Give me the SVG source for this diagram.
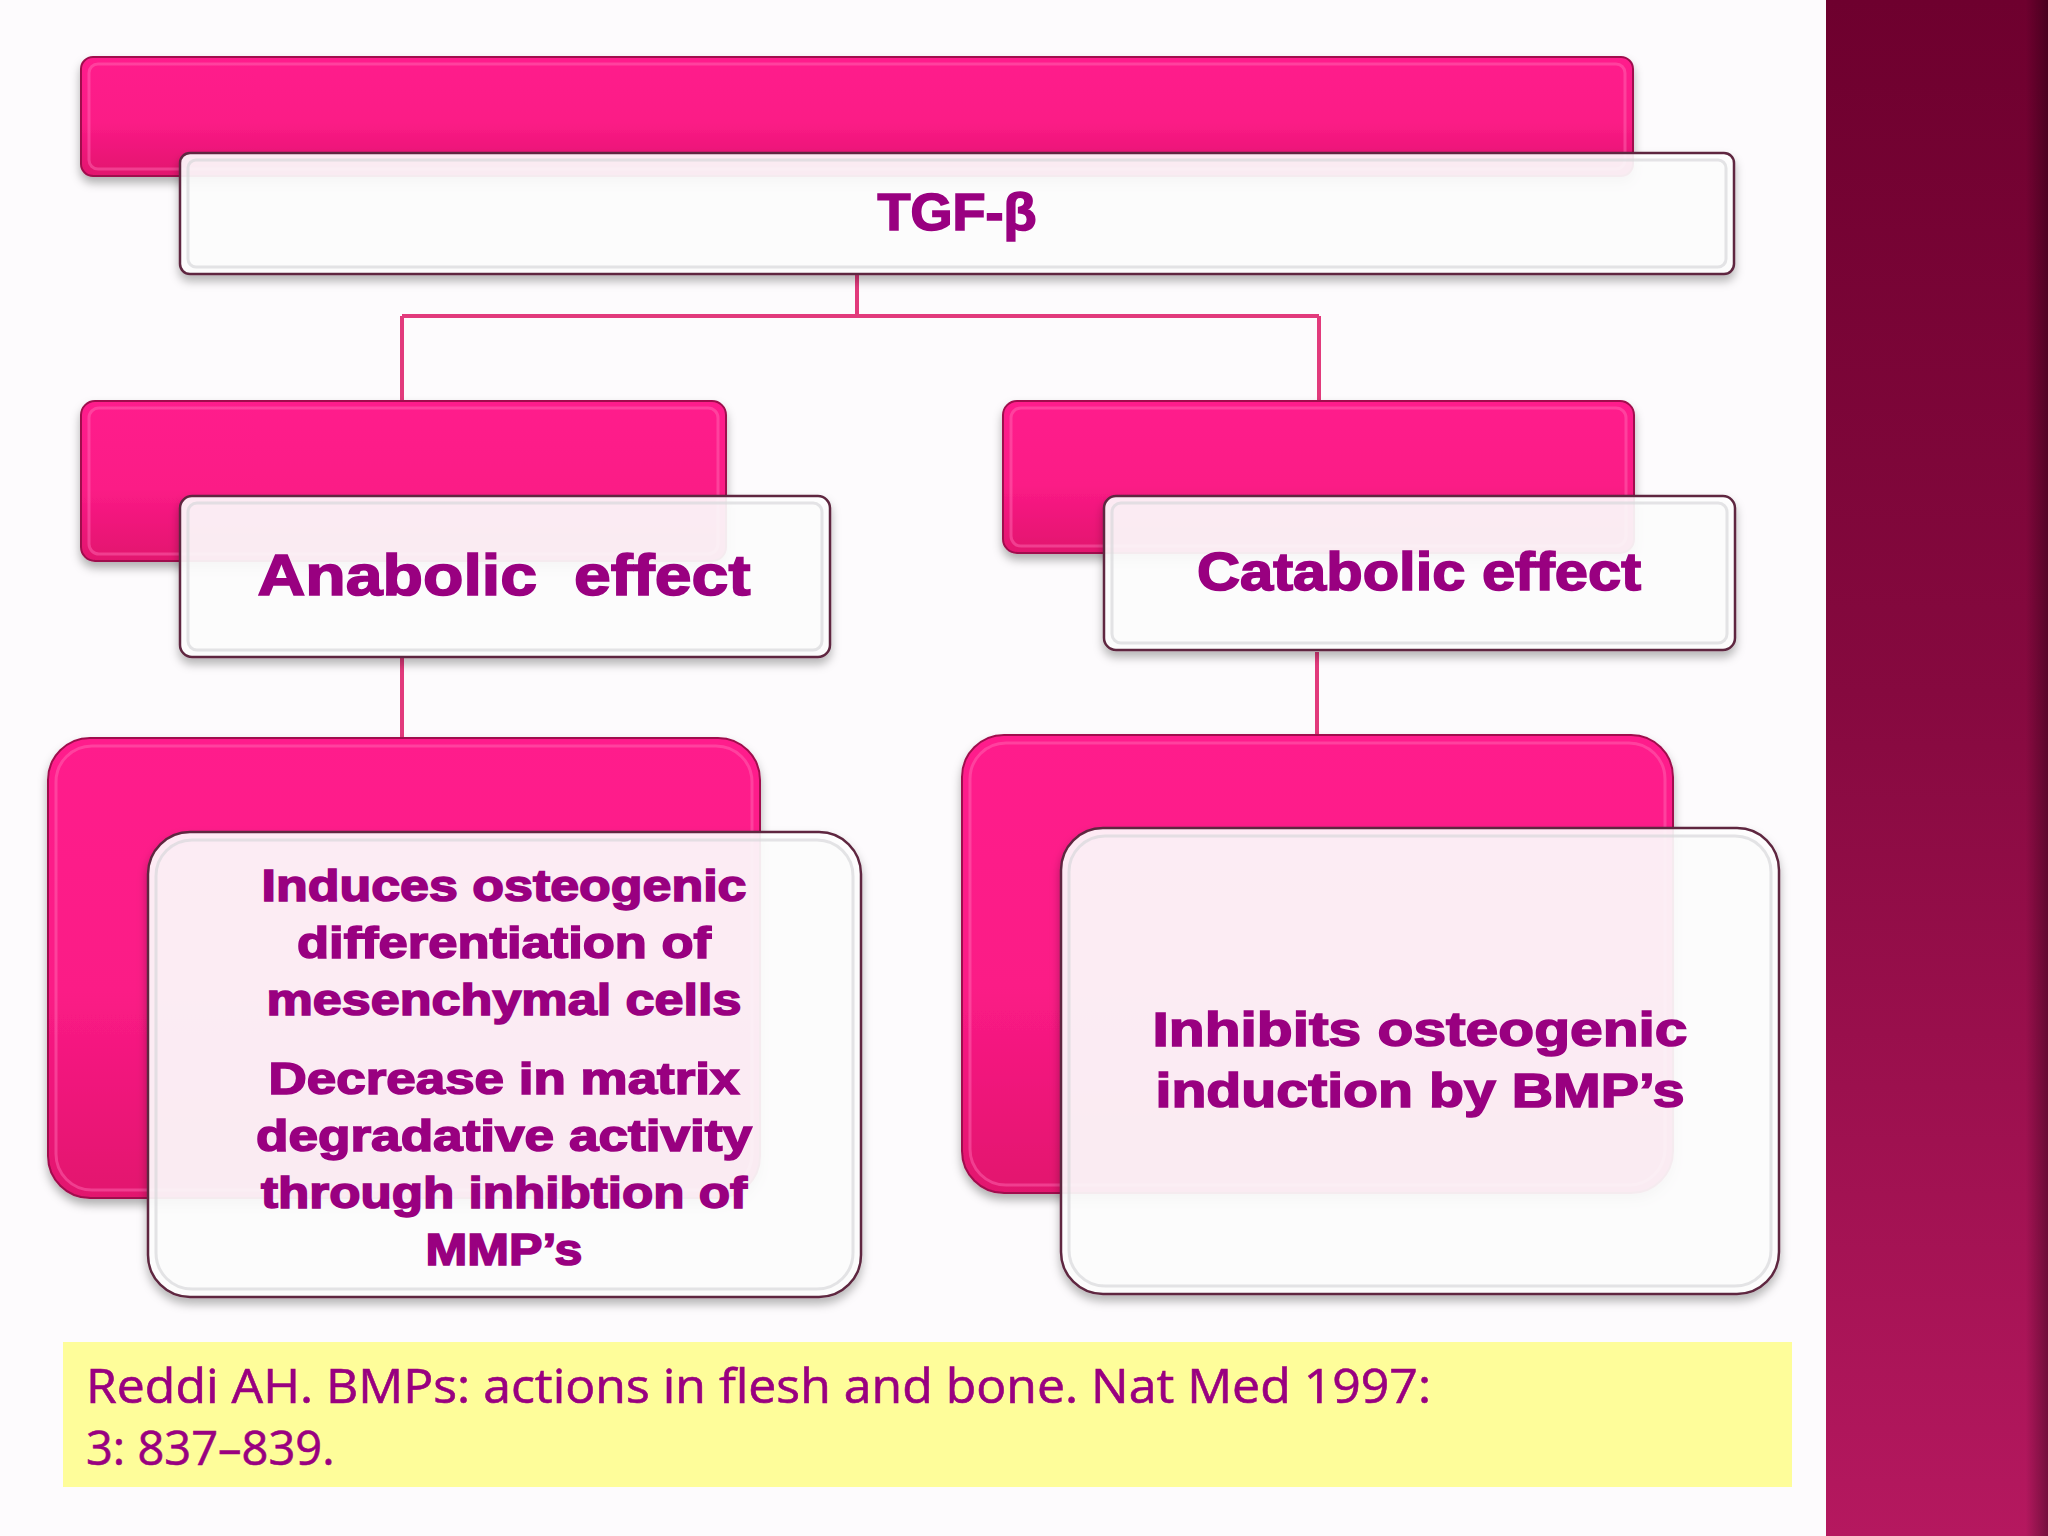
<svg xmlns="http://www.w3.org/2000/svg" width="2048" height="1536" viewBox="0 0 2048 1536">
<defs>
  <linearGradient id="pinkG" x1="0" y1="0" x2="0" y2="1">
    <stop offset="0" stop-color="#FF1F8C"/>
    <stop offset="0.55" stop-color="#FB1B86"/>
    <stop offset="1" stop-color="#E2126E"/>
  </linearGradient>
  <linearGradient id="bandG" x1="0" y1="0" x2="0" y2="1">
    <stop offset="0" stop-color="#6E002E"/>
    <stop offset="0.45" stop-color="#86093F"/>
    <stop offset="1" stop-color="#B5185F"/>
  </linearGradient>
  <linearGradient id="bandEdge" x1="0" y1="0" x2="1" y2="0">
    <stop offset="0" stop-color="#000" stop-opacity="0"/>
    <stop offset="0.9" stop-color="#000" stop-opacity="0"/>
    <stop offset="1" stop-color="#000" stop-opacity="0.35"/>
  </linearGradient>
  <filter id="sh" x="-5%" y="-10%" width="110%" height="125%">
    <feDropShadow dx="0" dy="6" stdDeviation="5" flood-color="#000" flood-opacity="0.3"/>
  </filter>
</defs>
<style>
  .pink { fill: url(#pinkG); stroke: #A0104E; stroke-width: 2; }
  .pinkHi { fill: none; stroke: #FF6FB5; stroke-opacity: 0.45; stroke-width: 3; }
  .white { fill: #FFFFFF; fill-opacity: 0.9; stroke: #5E2840; stroke-width: 2.5; }
  .whiteHi { fill: none; stroke: #D8D8DC; stroke-opacity: 0.7; stroke-width: 3; }
  .t { font-family: "Liberation Sans", Arial, sans-serif; font-weight: bold; fill: #990080; stroke: #990080; stroke-width: 1.6; text-anchor: middle; }
  .conn { stroke: #E23A7C; stroke-width: 4; fill: none; }
  .cite { font-family: "Open Sans", "Noto Sans", sans-serif; fill: #990080; stroke: #990080; stroke-width: 0.6; font-size: 47px; }
</style>
<rect x="0" y="0" width="2048" height="1536" fill="#FDFBFD"/>
<g id="band">
  <rect x="1826" y="0" width="222" height="1536" fill="url(#bandG)"/>
  <rect x="1826" y="0" width="222" height="1536" fill="url(#bandEdge)"/>
</g>
<g id="connectors">
  <path class="conn" d="M857 274 V316 M402 316 H1319 M402 316 V401 M1319 316 V401 M402 657 V738 M1317 652 V735"/>
</g>
<g id="node-tgf">
  <rect class="pink" x="81" y="57" width="1552" height="119" rx="12" filter="url(#sh)"/>
  <rect class="pinkHi" x="89" y="64" width="1536" height="105" rx="9"/>
  <rect class="white" x="180" y="153" width="1554" height="121" rx="10" filter="url(#sh)"/>
  <rect class="whiteHi" x="188" y="160" width="1538" height="107" rx="8"/>
  <text class="t" x="957" y="230" font-size="51" textLength="159" lengthAdjust="spacingAndGlyphs">TGF-β</text>
</g>
<g id="node-anabolic">
  <rect class="pink" x="81" y="401" width="645" height="160" rx="14" filter="url(#sh)"/>
  <rect class="pinkHi" x="89" y="408" width="629" height="146" rx="10"/>
  <rect class="white" x="180" y="496" width="650" height="161" rx="12" filter="url(#sh)"/>
  <rect class="whiteHi" x="188" y="503" width="634" height="147" rx="9"/>
  <text class="t" x="504" y="595" font-size="58" textLength="493" lengthAdjust="spacingAndGlyphs">Anabolic&#160; effect</text>
</g>
<g id="node-catabolic">
  <rect class="pink" x="1003" y="401" width="631" height="152" rx="14" filter="url(#sh)"/>
  <rect class="pinkHi" x="1011" y="408" width="615" height="138" rx="10"/>
  <rect class="white" x="1104" y="496" width="631" height="154" rx="12" filter="url(#sh)"/>
  <rect class="whiteHi" x="1112" y="503" width="615" height="140" rx="9"/>
  <text class="t" x="1419" y="590" font-size="53" textLength="444" lengthAdjust="spacingAndGlyphs">Catabolic effect</text>
</g>
<g id="node-anabolic-detail">
  <rect class="pink" x="48" y="738" width="712" height="460" rx="42" filter="url(#sh)"/>
  <rect class="pinkHi" x="56" y="746" width="696" height="444" rx="36"/>
  <rect class="white" x="148" y="832" width="713" height="465" rx="42" filter="url(#sh)"/>
  <rect class="whiteHi" x="156" y="840" width="697" height="449" rx="36"/>
  <text class="t" x="504" y="901" font-size="44" textLength="485" lengthAdjust="spacingAndGlyphs">Induces osteogenic</text>
  <text class="t" x="504" y="958" font-size="44" textLength="414" lengthAdjust="spacingAndGlyphs">differentiation of</text>
  <text class="t" x="504" y="1015" font-size="44" textLength="475" lengthAdjust="spacingAndGlyphs">mesenchymal cells</text>
  <text class="t" x="504" y="1094" font-size="44" textLength="471" lengthAdjust="spacingAndGlyphs">Decrease in matrix</text>
  <text class="t" x="504" y="1151" font-size="44" textLength="496" lengthAdjust="spacingAndGlyphs">degradative activity</text>
  <text class="t" x="504" y="1208" font-size="44" textLength="486" lengthAdjust="spacingAndGlyphs">through inhibtion of</text>
  <text class="t" x="504" y="1265" font-size="44" textLength="157" lengthAdjust="spacingAndGlyphs">MMP’s</text>
</g>
<g id="node-catabolic-detail">
  <rect class="pink" x="962" y="735" width="711" height="458" rx="42" filter="url(#sh)"/>
  <rect class="pinkHi" x="970" y="743" width="695" height="442" rx="36"/>
  <rect class="white" x="1061" y="828" width="718" height="466" rx="42" filter="url(#sh)"/>
  <rect class="whiteHi" x="1069" y="836" width="702" height="450" rx="36"/>
  <text class="t" x="1420" y="1046" font-size="49" textLength="535" lengthAdjust="spacingAndGlyphs">Inhibits osteogenic</text>
  <text class="t" x="1420" y="1107" font-size="49" textLength="529" lengthAdjust="spacingAndGlyphs">induction by BMP’s</text>
</g>
<g id="citation">
  <rect x="63" y="1342" width="1729" height="145" fill="#FEFD9A"/>
  <text class="cite" x="86" y="1403" textLength="1345" lengthAdjust="spacingAndGlyphs">Reddi AH. BMPs: actions in flesh and bone. Nat Med 1997:</text>
  <text class="cite" x="86" y="1465">3: 837–839.</text>
</g>
</svg>
